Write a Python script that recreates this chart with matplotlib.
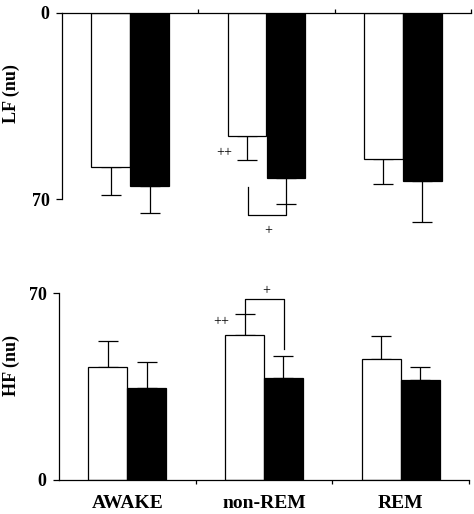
import matplotlib
matplotlib.use("Agg")
import matplotlib.pyplot as plt
import numpy as np

categories = ["AWAKE", "non-REM", "REM"]

# LF (nu), drawn downward from 0
lf_open = [58.0, 46.2, 55.0]
lf_open_err = [10.5, 9.2, 9.2]
lf_filled = [65.1, 62.1, 63.2]
lf_filled_err = [10.2, 9.8, 15.4]

# HF (nu)
hf_open = [42.2, 54.2, 45.3]
hf_open_err = [9.7, 7.9, 8.6]
hf_filled = [34.3, 38.3, 37.5]
hf_filled_err = [9.8, 8.3, 4.9]

plt.rcParams["font.family"] = ["Liberation Serif", "DejaVu Serif"]

fig = plt.figure(figsize=(4.74, 5.14), dpi=100)
ax1 = fig.add_axes([62 / 474, 1 - 199 / 514, 409 / 474, 186 / 514])
ax2 = fig.add_axes([59 / 474, 1 - 480 / 514, 410 / 474, 187 / 514])

x = np.arange(len(categories)) + 0.5
w = 0.285
zeros = [0] * len(categories)
ekw = dict(fmt="none", ecolor="black", elinewidth=0.9, capsize=7.5, capthick=0.9)


def draw(ax, opn, opn_err, fil, fil_err):
    ax.bar(x - w / 2, opn, w, color="white", edgecolor="black", linewidth=0.9, zorder=2)
    ax.bar(x + w / 2, fil, w, color="black", edgecolor="black", linewidth=0.9, zorder=2)
    for xs, v, e in ((x - w / 2, opn, opn_err), (x + w / 2, fil, fil_err)):
        eb = ax.errorbar(xs, v, yerr=[zeros, e], zorder=1, **ekw)
        for art in eb.get_children():
            art.set_clip_on(False)
    ax.set_xlim(0, 3)
    ax.set_xticks([1, 2, 3])
    ax.set_xticklabels([])
    ax.set_yticks([0, 70])
    ax.spines["right"].set_visible(False)
    for s in ax.spines.values():
        s.set_linewidth(0.9)
    ax.tick_params(axis="x", length=3, width=0.9)
    ax.tick_params(axis="y", length=4, width=0.9, pad=5, labelsize=13)
    for t in ax.get_yticklabels():
        t.set_fontweight("bold")


# top panel
draw(ax1, lf_open, lf_open_err, lf_filled, lf_filled_err)
ax1.set_ylim(70, 0)
ax1.spines["bottom"].set_visible(False)
ax1.xaxis.tick_top()
ax1.set_ylabel("LF (nu)", fontsize=13, fontweight="bold")
ax1.yaxis.set_label_coords(-0.103, 0.565)
ax1.plot([1.365, 1.365, 1.645, 1.645], [65.5, 76.0, 76.0, 72.0], color="black",
         lw=0.9, clip_on=False)
ax1.text(1.51, 82.0, "+", ha="center", va="center", fontsize=10)
ax1.text(1.19, 52.5, "++", ha="center", va="center", fontsize=10)

# bottom panel
draw(ax2, hf_open, hf_open_err, hf_filled, hf_filled_err)
ax2.set_ylim(0, 70)
ax2.spines["top"].set_visible(False)
ax2.set_xticks(x, minor=True)
ax2.set_xticklabels(categories, minor=True, fontsize=14, fontweight="bold")
ax2.tick_params(axis="x", which="minor", length=0, pad=11)
ax2.set_ylabel("HF (nu)", fontsize=13, fontweight="bold")
ax2.yaxis.set_label_coords(-0.095, 0.61)
ax2.plot([1.358, 1.358, 1.645, 1.645], [62.2, 67.8, 67.8, 49.1], color="black",
         lw=0.9, clip_on=False)
ax2.text(1.52, 71.0, "+", ha="center", va="center", fontsize=10)
ax2.text(1.19, 59.2, "++", ha="center", va="center", fontsize=10)

fig.savefig("out.png", dpi=100)
